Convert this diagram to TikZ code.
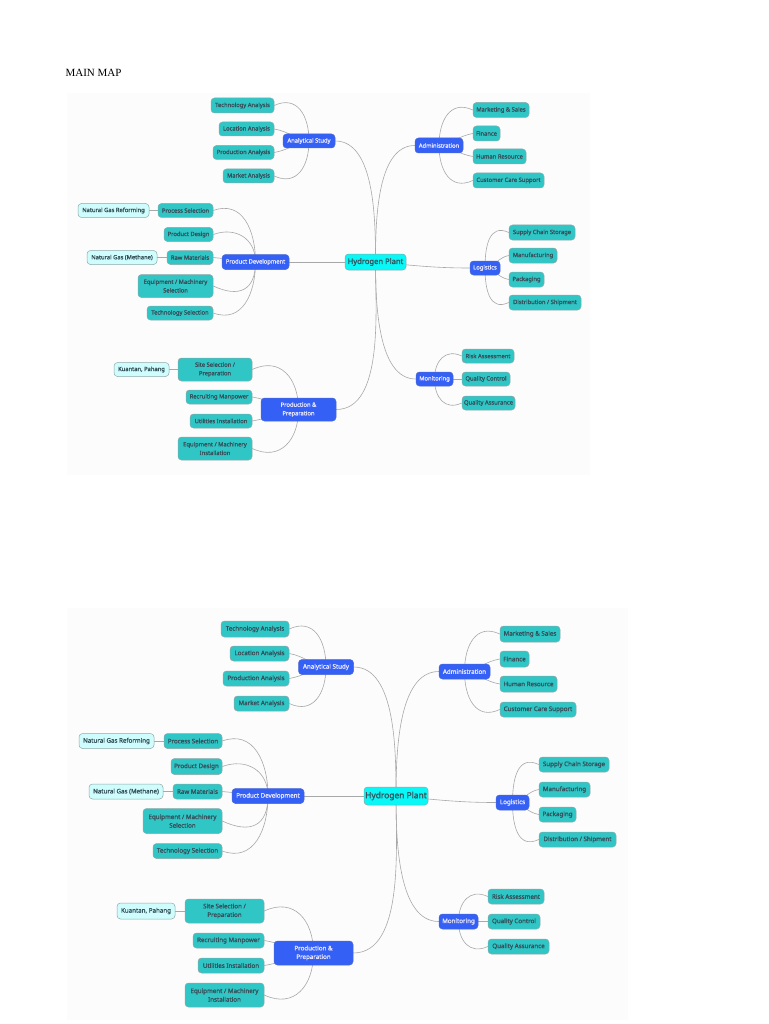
\documentclass[tikz,border=0pt]{standalone}
\usepackage{fontspec}
\setmainfont{Liberation Serif}
\newfontfamily\mapfont[AutoFakeBold=1.6]{Noto Sans}
\usetikzlibrary{positioning}
\pgfdeclarelayer{bg}
\pgfsetlayers{bg,main}
\definecolor{hubcol}{HTML}{08F8F8}
\definecolor{maincol}{HTML}{3560F5}
\definecolor{subcol}{HTML}{30C6C6}
\definecolor{notecol}{HTML}{CFFCFC}
\definecolor{inkcol}{HTML}{36525C}
\definecolor{rimcol}{HTML}{8FA8A8}
\definecolor{linecol}{HTML}{A8A8A8}
\definecolor{panelcol}{HTML}{FCFCFC}
\tikzset{
  box/.style={rounded corners=3.5pt, draw=rimcol, line width=0.5pt, align=center, inner sep=0pt,
    font=\mapfont\bfseries\fontsize{#1}{8.6}\selectfont},
  hub/.style={box=#1, fill=hubcol, text=inkcol},
  branch/.style={box=#1, fill=maincol, draw=maincol!70!gray, text=white!90!blue},
  topic/.style={box=#1, fill=subcol, text=inkcol},
  note/.style={box=#1, fill=notecol, text=inkcol},
  link/.style={draw=linecol, line width=0.6pt}
}

\begin{document}
\begin{tikzpicture}[x=1pt, y=-1pt, on grid]
        \useasboundingbox (0,0) rectangle (768,1024);
        \node[anchor=west, font=\fontsize{11}{13}\selectfont] (title) at (62,72.5) {MAIN MAP};

        % upper map
        \node[hub=7.6, minimum width=61pt, minimum height=16pt] (hub_a) at (375.5,262) {Hydrogen Plant};
        \node[branch=5.8, minimum width=52pt, minimum height=14pt] (study_a)  [above left=121pt and 66.5pt of hub_a] {Analytical Study};
        \node[branch=5.8, minimum width=48pt, minimum height=15pt] (admin_a)  [above right=116.5pt and 63.5pt of hub_a] {Administration};
        \node[branch=5.8, minimum width=67pt, minimum height=15pt] (devel_a)  [left=120pt of hub_a] {Product Development};
        \node[branch=5.8, minimum width=30pt, minimum height=14pt] (logi_a)   [below right=6pt and 109.5pt of hub_a] {Logistics};
        \node[branch=5.8, minimum width=75pt, minimum height=23pt] (prep_a)   [below left=147.5pt and 77pt of hub_a] {Production \&\\Preparation};
        \node[branch=5.8, minimum width=37pt, minimum height=14pt] (moni_a)   [below right=117pt and 59pt of hub_a] {Monitoring};

        \node[topic=5.8, minimum width=63pt, minimum height=15pt] (tech_a)    [above left=35.5pt and 66.5pt of study_a] {Technology Analysis};
        \node[topic=5.8, minimum width=55pt, minimum height=14pt] (loc_a)     [above left=12pt and 62.5pt of study_a] {Location Analysis};
        \node[topic=5.8, minimum width=61pt, minimum height=14pt] (prodan_a)  [below left=11.5pt and 65.5pt of study_a] {Production Analysis};
        \node[topic=5.8, minimum width=51pt, minimum height=14pt] (market_a)  [below left=35pt and 60.5pt of study_a] {Market Analysis};

        \node[topic=5.8, minimum width=55pt, minimum height=14pt] (procs_a)   [above left=51.5pt and 70pt of devel_a] {Process Selection};
        \node[topic=5.8, minimum width=49pt, minimum height=14pt] (design_a)  [above left=27.5pt and 67pt of devel_a] {Product Design};
        \node[topic=5.8, minimum width=46pt, minimum height=14pt] (raw_a)     [above left=4.5pt and 65.5pt of devel_a] {Raw Materials};
        \node[topic=5.8, minimum width=75pt, minimum height=23pt] (equip_a)   [below left=24pt and 80pt of devel_a] {Equipment / Machinery\\Selection};
        \node[topic=5.8, minimum width=66pt, minimum height=14pt] (techs_a)   [below left=51pt and 75.5pt of devel_a] {Technology Selection};
        \node[note=5.8, minimum width=71pt, minimum height=14pt]  (reform_a)  [left=72pt of procs_a] {Natural Gas Reforming};
        \node[note=5.8, minimum width=70pt, minimum height=14pt]  (meth_a)    [left=68pt of raw_a] {Natural Gas (Methane)};

        \node[topic=5.8, minimum width=56pt, minimum height=15pt] (sales_a)   [above right=35.5pt and 62pt of admin_a] {Marketing \& Sales};
        \node[topic=5.8, minimum width=27pt, minimum height=15pt] (fin_a)     [above right=12pt and 47.5pt of admin_a] {Finance};
        \node[topic=5.8, minimum width=53pt, minimum height=15pt] (human_a)   [below right=11pt and 60.5pt of admin_a] {Human Resource};
        \node[topic=5.8, minimum width=71pt, minimum height=15pt] (care_a)    [below right=35pt and 69.5pt of admin_a] {Customer Care Support};

        \node[topic=5.8, minimum width=66pt, minimum height=15pt] (supply_a)  [above right=35.5pt and 57pt of logi_a] {Supply Chain Storage};
        \node[topic=5.8, minimum width=48pt, minimum height=15pt] (manu_a)    [above right=12.5pt and 48pt of logi_a] {Manufacturing};
        \node[topic=5.8, minimum width=35pt, minimum height=15pt] (pack_a)    [below right=11.5pt and 41.5pt of logi_a] {Packaging};
        \node[topic=5.8, minimum width=72pt, minimum height=15pt] (dist_a)    [below right=34.5pt and 60pt of logi_a] {Distribution / Shipment};

        \node[topic=5.8, minimum width=52pt, minimum height=14pt] (risk_a)    [above right=23pt and 53.5pt of moni_a] {Risk Assessment};
        \node[topic=5.8, minimum width=48pt, minimum height=14pt] (qc_a)      [right=51.5pt of moni_a] {Quality Control};
        \node[topic=5.8, minimum width=53pt, minimum height=14pt] (qa_a)      [below right=24pt and 54pt of moni_a] {Quality Assurance};

        \node[topic=5.8, minimum width=74pt, minimum height=23pt] (site_a)    [above left=40pt and 83.5pt of prep_a] {Site Selection /\\Preparation};
        \node[topic=5.8, minimum width=66pt, minimum height=14pt] (recr_a)    [above left=12.5pt and 79.5pt of prep_a] {Recruiting Manpower};
        \node[topic=5.8, minimum width=62pt, minimum height=14pt] (util_a)    [below left=11.5pt and 77.5pt of prep_a] {Utilities Installation};
        \node[topic=5.8, minimum width=74pt, minimum height=23pt] (inst_a)    [below left=39pt and 83.5pt of prep_a] {Equipment / Machinery\\Installation};
        \node[note=5.8, minimum width=55pt, minimum height=14pt]  (kuan_a)    [left=73.5pt of site_a] {Kuantan, Pahang};

        % lower map
        \node[hub=8.4, minimum width=64pt, minimum height=18pt] (hub_b) at (396,796) {Hydrogen Plant};
        \node[branch=6.2, minimum width=55pt, minimum height=15pt] (study_b) [above left=129pt and 70pt of hub_b] {Analytical Study};
        \node[branch=6.2, minimum width=51pt, minimum height=15pt] (admin_b) [above right=124.5pt and 68.5pt of hub_b] {Administration};
        \node[branch=6.2, minimum width=72pt, minimum height=15pt] (devel_b) [left=128pt of hub_b] {Product Development};
        \node[branch=6.2, minimum width=33pt, minimum height=15pt] (logi_b)  [below right=6.5pt and 116.5pt of hub_b] {Logistics};
        \node[branch=6.2, minimum width=79pt, minimum height=24pt] (prep_b)  [below left=157pt and 82.5pt of hub_b] {Production \&\\Preparation};
        \node[branch=6.2, minimum width=39pt, minimum height=15pt] (moni_b)  [below right=125.5pt and 62.5pt of hub_b] {Monitoring};

        \node[topic=6.2, minimum width=68pt, minimum height=16pt] (tech_b)   [above left=38pt and 71pt of study_b] {Technology Analysis};
        \node[topic=6.2, minimum width=59pt, minimum height=15pt] (loc_b)    [above left=13.5pt and 66.5pt of study_b] {Location Analysis};
        \node[topic=6.2, minimum width=66pt, minimum height=15pt] (prodan_b) [below left=11.5pt and 70pt of study_b] {Production Analysis};
        \node[topic=6.2, minimum width=55pt, minimum height=15pt] (market_b) [below left=36.5pt and 64.5pt of study_b] {Market Analysis};

        \node[topic=6.2, minimum width=58pt, minimum height=15pt] (procs_b)  [above left=55pt and 75pt of devel_b] {Process Selection};
        \node[topic=6.2, minimum width=51pt, minimum height=16pt] (design_b) [above left=29.5pt and 71.5pt of devel_b] {Product Design};
        \node[topic=6.2, minimum width=49pt, minimum height=15pt] (raw_b)    [above left=4.5pt and 70.5pt of devel_b] {Raw Materials};
        \node[topic=6.2, minimum width=79pt, minimum height=25pt] (equip_b)  [below left=25pt and 85.5pt of devel_b] {Equipment / Machinery\\Selection};
        \node[topic=6.2, minimum width=69pt, minimum height=15pt] (techs_b)  [below left=55pt and 80.5pt of devel_b] {Technology Selection};
        \node[note=6.2, minimum width=75pt, minimum height=15pt]  (reform_b) [left=76.5pt of procs_b] {Natural Gas Reforming};
        \node[note=6.2, minimum width=74pt, minimum height=15pt]  (meth_b)   [left=71.5pt of raw_b] {Natural Gas (Methane)};

        \node[topic=6.2, minimum width=60pt, minimum height=16pt] (sales_b)  [above right=37.5pt and 65.5pt of admin_b] {Marketing \& Sales};
        \node[topic=6.2, minimum width=29pt, minimum height=16pt] (fin_b)    [above right=12.5pt and 50pt of admin_b] {Finance};
        \node[topic=6.2, minimum width=57pt, minimum height=16pt] (human_b)  [below right=12.5pt and 64pt of admin_b] {Human Resource};
        \node[topic=6.2, minimum width=76pt, minimum height=15pt] (care_b)   [below right=38pt and 73.5pt of admin_b] {Customer Care Support};

        \node[topic=6.2, minimum width=70pt, minimum height=15pt] (supply_b) [above right=38pt and 61.5pt of logi_b] {Supply Chain Storage};
        \node[topic=6.2, minimum width=51pt, minimum height=15pt] (manu_b)   [above right=13pt and 52pt of logi_b] {Manufacturing};
        \node[topic=6.2, minimum width=37pt, minimum height=15pt] (pack_b)   [below right=12pt and 45pt of logi_b] {Packaging};
        \node[topic=6.2, minimum width=77pt, minimum height=15pt] (dist_b)   [below right=37pt and 65pt of logi_b] {Distribution / Shipment};

        \node[topic=6.2, minimum width=56pt, minimum height=15pt] (risk_b)   [above right=25pt and 57.5pt of moni_b] {Risk Assessment};
        \node[topic=6.2, minimum width=52pt, minimum height=15pt] (qc_b)     [right=55.5pt of moni_b] {Quality Control};
        \node[topic=6.2, minimum width=61pt, minimum height=15pt] (qa_b)     [below right=25pt and 60pt of moni_b] {Quality Assurance};

        \node[topic=6.2, minimum width=79pt, minimum height=24pt] (site_b)   [above left=42pt and 89pt of prep_b] {Site Selection /\\Preparation};
        \node[topic=6.2, minimum width=71pt, minimum height=15pt] (recr_b)   [above left=12.5pt and 85pt of prep_b] {Recruiting Manpower};
        \node[topic=6.2, minimum width=66pt, minimum height=15pt] (util_b)   [below left=12.5pt and 82.5pt of prep_b] {Utilities Installation};
        \node[topic=6.2, minimum width=79pt, minimum height=24pt] (inst_b)   [below left=42pt and 89pt of prep_b] {Equipment / Machinery\\Installation};
        \node[note=6.2, minimum width=58pt, minimum height=16pt]  (kuan_b)   [left=78.5pt of site_b] {Kuantan, Pahang};

        \begin{pgfonlayer}{bg}
        \fill[panelcol] (67,93) rectangle (590,475);
        \fill[panelcol] (67,608) rectangle (628,1020);
        \foreach \m in {a,b} {
        \path[link] (hub_\m.center) edge [out=90,in=0,looseness=0.8]     (study_\m.east)
                         edge [out=90,in=180,looseness=0.8]  (admin_\m.west)
                         edge                                (devel_\m.east)
                         edge [out=-5,in=180]                (logi_\m.west)
                         edge [out=-90,in=0,looseness=0.8]   (prep_\m.east)
                         edge [out=-90,in=180,looseness=0.8] (moni_\m.west)
                  (study_\m.center) edge [out=90,in=25,looseness=1.3]    (tech_\m.east)
                         edge [out=170,in=-10]               (loc_\m.east)
                         edge [out=190,in=10]                (prodan_\m.east)
                         edge [out=-90,in=-25,looseness=1.3] (market_\m.east)
                  (devel_\m.center) edge [out=90,in=20,looseness=1.2]    (procs_\m.east)
                         edge [out=90,in=20,looseness=1.2]   (design_\m.east)
                         edge                                (raw_\m.east)
                         edge [out=-90,in=-25,looseness=1.5] (equip_\m.east)
                         edge [out=-90,in=-20,looseness=1.2] (techs_\m.east)
                  (procs_\m.west) edge (reform_\m.east)
                  (raw_\m.west)   edge (meth_\m.east)
                  (admin_\m.center) edge [out=90,in=155,looseness=1.3]   (sales_\m.west)
                         edge [out=10,in=190]                (fin_\m.west)
                         edge [out=-10,in=170]               (human_\m.west)
                         edge [out=-90,in=205,looseness=1.3] (care_\m.west)
                  (logi_\m.center) edge [out=90,in=155,looseness=1.3]    (supply_\m.west)
                         edge [out=10,in=190]                (manu_\m.west)
                         edge [out=-10,in=170]               (pack_\m.west)
                         edge [out=-90,in=205,looseness=1.3] (dist_\m.west)
                  (moni_\m.center) edge [out=90,in=155,looseness=1.3]    (risk_\m.west)
                         edge                                (qc_\m.west)
                         edge [out=-90,in=205,looseness=1.3] (qa_\m.west)
                  (prep_\m.center) edge [out=90,in=25,looseness=1.3]     (site_\m.east)
                         edge [out=170,in=-10]               (recr_\m.east)
                         edge [out=190,in=10]                (util_\m.east)
                         edge [out=-90,in=-25,looseness=1.3] (inst_\m.east)
                  (site_\m.west) edge (kuan_\m.east);
        }
        \end{pgfonlayer}
\end{tikzpicture}
\end{document}
